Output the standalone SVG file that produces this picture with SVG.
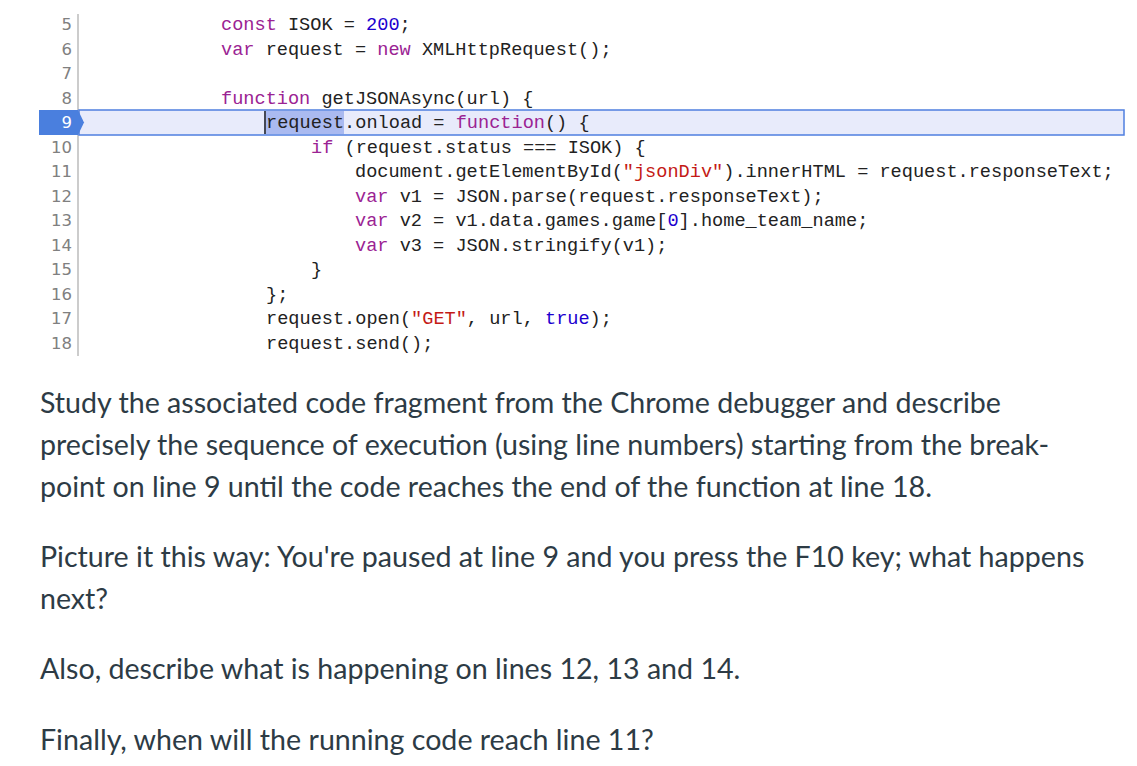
<svg xmlns="http://www.w3.org/2000/svg" width="1137" height="766" viewBox="0 0 1137 766">
<style>
.c{font-family:"Liberation Mono",monospace;font-size:18.6px;fill:#222;white-space:pre}
.k{fill:#9b2393}.n{fill:#1c00cf}.s{fill:#c41a16}
.g{font-family:"DejaVu Sans",sans-serif;font-size:16.5px;fill:#808080;text-anchor:end}
.p{font-family:Lato,"Noto Sans",sans-serif;font-size:28.6px;fill:#2d3b45}
</style>
<rect width="1137" height="766" fill="#fff"/>
<g id="gutter">
<line x1="78" y1="14" x2="78" y2="356" stroke="#ccc" stroke-width="2"/>
<rect x="79" y="110" width="1045" height="25" fill="#e8ebfb" stroke="#4f7fe0" stroke-width="1.5"/>
<path d="M39 110 H78 L84 122.5 L78 135 H39 Z" fill="#4a7fde"/>
<rect x="264" y="111" width="80" height="23" fill="#aabaf0"/>
<line x1="265" y1="111" x2="265" y2="134" stroke="#222" stroke-width="1.5"/>
<text class="g" x="72" y="30">5</text><text class="g" x="72" y="55">6</text><text class="g" x="72" y="79">7</text><text class="g" x="72" y="104">8</text>
<text class="g" x="72" y="128" style="fill:#fff">9</text><text class="g" x="72" y="153">10</text><text class="g" x="72" y="177">11</text><text class="g" x="72" y="202">12</text>
<text class="g" x="72" y="226">13</text><text class="g" x="72" y="251">14</text><text class="g" x="72" y="275">15</text><text class="g" x="72" y="300">16</text>
<text class="g" x="72" y="324">17</text><text class="g" x="72" y="349">18</text>
</g>
<g id="code">
<text class="c" x="221" y="30"><tspan class="k">const</tspan> ISOK = <tspan class="n">200</tspan>;</text>
<text class="c" x="221" y="55"><tspan class="k">var</tspan> request = <tspan class="k">new</tspan> XMLHttpRequest();</text>
<text class="c" x="221" y="104"><tspan class="k">function</tspan> getJSONAsync(url) {</text>
<text class="c" x="266" y="128">request.onload = <tspan class="k">function</tspan>() {</text>
<text class="c" x="311" y="153"><tspan class="k">if</tspan> (request.status === ISOK) {</text>
<text class="c" x="355" y="177">document.getElementById(<tspan class="s">"jsonDiv"</tspan>).innerHTML = request.responseText;</text>
<text class="c" x="355" y="202"><tspan class="k">var</tspan> v1 = JSON.parse(request.responseText);</text>
<text class="c" x="355" y="226"><tspan class="k">var</tspan> v2 = v1.data.games.game[<tspan class="n">0</tspan>].home_team_name;</text>
<text class="c" x="355" y="251"><tspan class="k">var</tspan> v3 = JSON.stringify(v1);</text>
<text class="c" x="311" y="275">}</text>
<text class="c" x="266" y="300">};</text>
<text class="c" x="266" y="324">request.open(<tspan class="s">"GET"</tspan>, url, <tspan class="n">true</tspan>);</text>
<text class="c" x="266" y="349">request.send();</text>
</g>
<g id="prose">
<text class="p" x="40" y="413">Study the associated code fragment from the Chrome debugger and describe</text>
<text class="p" x="40" y="455">precisely the sequence of execution (using line numbers) starting from the break-</text>
<text class="p" x="40" y="497">point on line 9 until the code reaches the end of the function at line 18.</text>
<text class="p" x="40" y="567">Picture it this way: You're paused at line 9 and you press the F10 key; what happens</text>
<text class="p" x="40" y="609">next?</text>
<text class="p" x="40" y="679">Also, describe what is happening on lines 12, 13 and 14.</text>
<text class="p" x="40" y="750">Finally, when will the running code reach line 11?</text>
</g>
</svg>
